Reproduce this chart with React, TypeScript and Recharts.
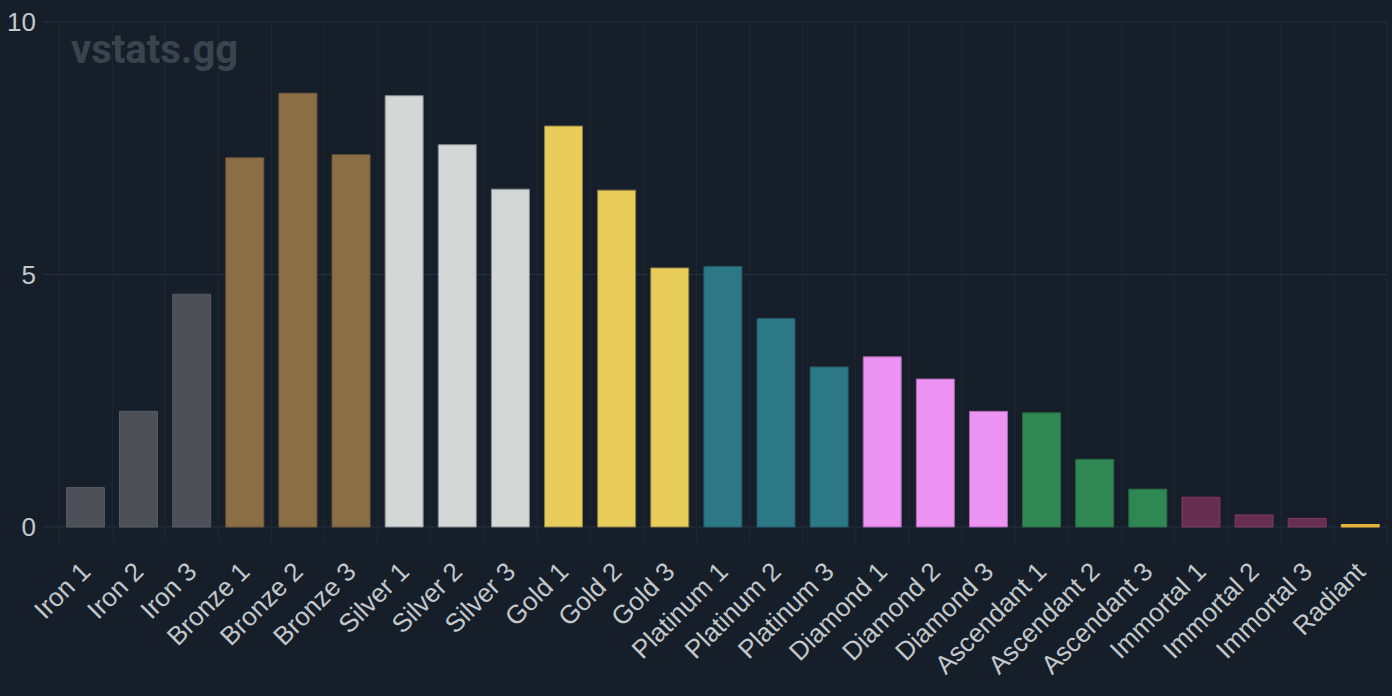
import React from 'react';
import { BarChart, Bar, Cell, XAxis, YAxis, CartesianGrid } from 'recharts';

// rank distribution (% of players)
const ranks = [
  'Iron 1', 'Iron 2', 'Iron 3',
  'Bronze 1', 'Bronze 2', 'Bronze 3',
  'Silver 1', 'Silver 2', 'Silver 3',
  'Gold 1', 'Gold 2', 'Gold 3',
  'Platinum 1', 'Platinum 2', 'Platinum 3',
  'Diamond 1', 'Diamond 2', 'Diamond 3',
  'Ascendant 1', 'Ascendant 2', 'Ascendant 3',
  'Immortal 1', 'Immortal 2', 'Immortal 3',
  'Radiant',
];
const shares = [
  0.78, 2.29, 4.61,
  7.31, 8.59, 7.37,
  8.54, 7.57, 6.69,
  7.94, 6.67, 5.13,
  5.16, 4.13, 3.17,
  3.37, 2.93, 2.29,
  2.26, 1.34, 0.75,
  0.59, 0.24, 0.17,
  0.05,
];
const yTicks = [0, 5, 10];

const tierFill: Record<string, string> = {
  Iron: '#4d5056',
  Bronze: '#8a6e45',
  Silver: '#d3d7d6',
  Gold: '#e8cd5a',
  Platinum: '#2c7886',
  Diamond: '#ec93f4',
  Ascendant: '#2f8752',
  Immortal: '#682e50',
  Radiant: '#e6b43c',
};
const tierBorder: Record<string, string> = {
  Iron: '#585c62',
  Bronze: '#6e583a',
  Silver: '#858c92',
  Gold: '#8a7d45',
  Platinum: '#24596a',
  Diamond: '#a865b0',
  Ascendant: '#2a6a45',
  Immortal: '#7d3a60',
  Radiant: '#e6b43c',
};

const W = 1392;
const H = 696;
const Y_AXIS_W = 59;
const X_AXIS_H = 169;
const MARGIN = { top: 22, right: 5, left: 0, bottom: 0 };
const BAND = (W - Y_AXIS_W - MARGIN.right) / ranks.length;

const BG = '#161f29';
const HGRID = '#243140';
const VGRID = '#1e2833';
const LABEL = '#c4c8cc';
const FONT = '"Liberation Sans", Arial, Helvetica, sans-serif';

const data = ranks.map((rank, i) => ({ rank, share: shares[i] }));

function RankTick(props: any) {
  const { x, y, payload, index } = props;
  const half = BAND / 2;
  const ty = y + 40;
  return (
    <g>
      <line x1={x - half} x2={x - half} y1={y} y2={y + 16} stroke={VGRID} />
      {index === ranks.length - 1 && (
        <line x1={x + half} x2={x + half} y1={y} y2={y + 16} stroke={VGRID} />
      )}
      <text
        x={x}
        y={ty}
        transform={`rotate(-45 ${x} ${ty})`}
        textAnchor="end"
        dominantBaseline="central"
        fill={LABEL}
        fontSize={26}
        fontFamily={FONT}
      >
        {payload.value}
      </text>
    </g>
  );
}

export default function App() {
  return (
    <div style={{ position: 'absolute', left: 0, top: 0, width: W, height: H, background: BG }}>
      <BarChart width={W} height={H} data={data} margin={MARGIN} barCategoryGap="14%">
        <CartesianGrid
          stroke={HGRID}
          vertical={false}
        />
        <CartesianGrid
          stroke={VGRID}
          horizontal={false}
          verticalCoordinatesGenerator={({ offset }: any) =>
            Array.from({ length: ranks.length + 1 }, (_, i) => offset.left + (i * offset.width) / ranks.length)
          }
        />
        <XAxis
          dataKey="rank"
          interval={0}
          height={X_AXIS_H}
          axisLine={false}
          tickLine={false}
          tickSize={0}
          tickMargin={0}
          tick={<RankTick />}
        />
        <YAxis
          width={Y_AXIS_W}
          domain={[0, 10]}
          ticks={yTicks}
          axisLine={false}
          tickLine={{ stroke: HGRID }}
          tickSize={16}
          tickMargin={7}
          tick={{ fill: LABEL, fontSize: 26, fontFamily: FONT }}
        />
        <Bar dataKey="share" isAnimationActive={false} strokeWidth={1}>
          {ranks.map((rank) => {
            const tier = rank.split(' ')[0];
            return <Cell key={rank} fill={tierFill[tier]} stroke={tierBorder[tier]} />;
          })}
        </Bar>
      </BarChart>
      <svg
        width={W}
        height={H}
        style={{ position: 'absolute', left: 0, top: 0, pointerEvents: 'none' }}
      >
        <text x={71} y={63} fill="#3a444e" fontSize={40} fontWeight={700} fontFamily="Roboto, sans-serif">
          vstats.gg
        </text>
      </svg>
    </div>
  );
}
